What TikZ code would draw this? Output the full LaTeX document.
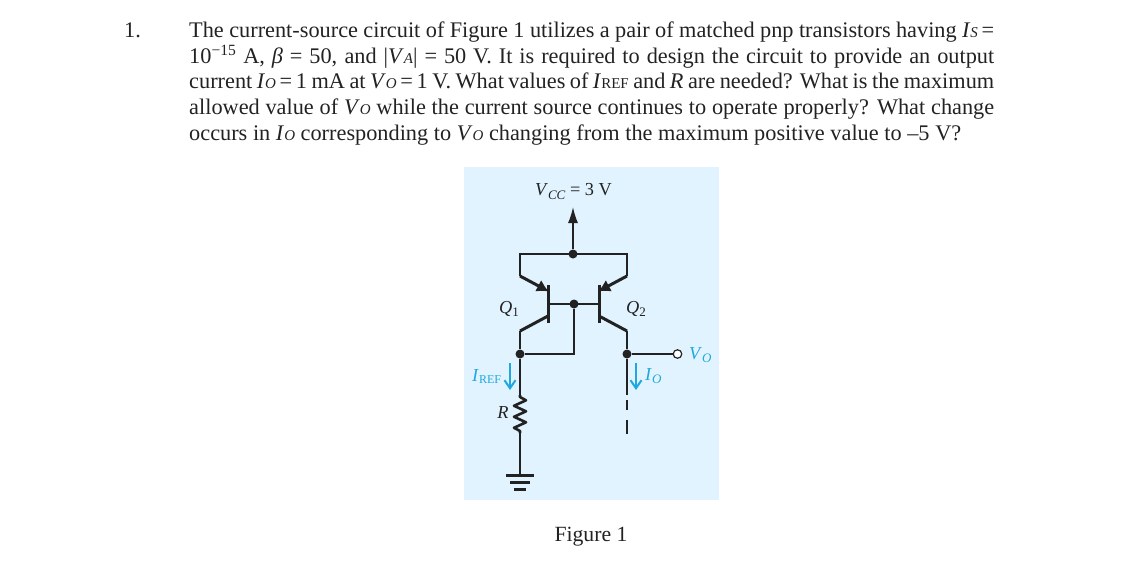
\documentclass[tikz,border=0pt]{standalone}
\usepackage{fontspec}
\setmainfont{Liberation Serif}
\usetikzlibrary{arrows.meta,calc}
\definecolor{panelblue}{HTML}{E0F3FE}
\definecolor{labelblue}{HTML}{1FA8E0}
\definecolor{inkgray}{HTML}{222222}
\newcommand{\prosesize}{\fontsize{22.3}{25.7}\selectfont}
\newcommand{\figsize}{\fontsize{18.3}{20}\selectfont}
\newcommand{\prosevar}[2]{\textit{#1}{\fontsize{15}{15}\selectfont\textit{#2}}}
\newcommand{\figvar}[2]{\textit{#1}\raisebox{-3.5pt}{\fontsize{13}{13}\selectfont\textit{#2}}}
\newcommand{\proseline}[1]{\makebox[805pt][s]{#1}\\}
\tikzset{
	wire/.style={inkgray,line width=1.5pt},
	heavy/.style={inkgray,line width=3pt},
	dot/.style={circle,fill=inkgray,inner sep=0pt,minimum size=9pt},
	terminal/.style={circle,draw=inkgray,fill=white,line width=1.2pt,inner sep=0pt,minimum size=8.5pt},
	currentarrow/.style={labelblue,line width=2pt,-{Straight Barb[length=8pt,width=11pt,line width=2pt]}},
	circuitlabel/.style={inkgray,font=\figsize,inner sep=0pt},
	bluelabel/.style={labelblue,font=\figsize,inner sep=0pt}
}
\begin{document}
\begin{tikzpicture}[x=1pt,y=-1pt]
	\useasboundingbox (0,0) rectangle (1127,560);
	%TEXT
	\node[anchor=base west,inner sep=0pt,inkgray,font=\prosesize] (number) at (124,37) {1.};
	\node[anchor=north west,inner sep=0pt,inkgray,font=\prosesize,align=left] (problem) at (189,21.5) {%
		\proseline{The current-source circuit of Figure 1 utilizes a pair of matched pnp transistors having \prosevar{I}{S}\,=}
		\proseline{10\textsuperscript{−15} A, \textit{β} = 50, and |\prosevar{V}{A}| = 50 V. It is required to design the circuit to provide an output}
		\proseline{current \prosevar{I}{O}\,=\,1 mA at \prosevar{V}{O}\,=\,1 V. What values of \prosevar{I}{}{\fontsize{15}{15}\selectfont REF} and \textit{R} are needed? What is the maximum}
		\proseline{allowed value of \prosevar{V}{O} while the current source continues to operate properly? What change}
		\makebox[772pt][s]{occurs in \prosevar{I}{O} corresponding to \prosevar{V}{O} changing from the maximum positive value to –5 V?}};
	\node[inkgray,font=\fontsize{21.7}{24}\selectfont,inner sep=0pt] (caption) at (591,537) {Figure 1};
	%PANEL
	\fill[panelblue] (464,167) rectangle (719,500);
	%POINTS
	\coordinate (supply) at (573,207);
	\node[dot] (top) at (573,254) {};
	\coordinate (railL) at (520,254);
	\coordinate (railR) at (627,254);
	\coordinate (kneeE1) at (520,276);
	\coordinate (kneeE2) at (627,276);
	\coordinate (emit1) at (548,291);
	\coordinate (emit2) at (599,291);
	\coordinate (bar1t) at (548,285);
	\coordinate (bar1b) at (548,323);
	\coordinate (bar2t) at (599,285);
	\coordinate (bar2b) at (599,323);
	\node[dot] (base) at (574,304) {};
	\coordinate (coll1) at (548,316);
	\coordinate (coll2) at (599,316);
	\coordinate (kneeC1) at (520,331);
	\coordinate (kneeC2) at (627,331);
	\node[dot] (out1) at (520,354) {};
	\node[dot] (out2) at (627,354) {};
	\coordinate (feed) at (574,354);
	\node[terminal] (vo) at (677.5,354) {};
	\coordinate (resT) at (520,395);
	\coordinate (resB) at (520,433);
	\coordinate (gnd) at (520,475);
	%WIRES
	\draw[wire,-{Latex[length=16pt,width=10pt]}] (top) -- (supply);
	\draw[wire] (kneeE1) -- (railL) -- (railR) -- (kneeE2);
	\draw[wire] (bar1t |- base) -- (bar2t |- base);
	\draw[wire] (base) -- (feed) -- (out1);
	\draw[wire] (kneeC1) -- (out1);
	\draw[wire] (kneeC2) -- (out2);
	\draw[wire] (out2) -- (vo);
	\draw[wire] (out1) -- (resT);
	\draw[wire] (resB) -- (gnd);
	%Q_1 et Q_2
	\draw[heavy] (bar1t) -- (bar1b);
	\draw[heavy] (bar2t) -- (bar2b);
	\draw[heavy] (coll1) -- (kneeC1);
	\draw[heavy] (coll2) -- (kneeC2);
	\draw[heavy,-{Latex[length=12pt,width=13pt]},shorten >=-1pt] (kneeE1) -- (emit1);
	\draw[heavy,-{Latex[length=12pt,width=13pt]},shorten >=-1pt] (kneeE2) -- (emit2);
	%R
	\draw[heavy,line width=2.6pt,line join=round] (resT) -- ++(0,2) -- ++(6,3.3) -- ++(-12,5.5) -- ++(12,5.5) -- ++(-12,5.5) -- ++(12,5.5) -- ++(-12,5.5) -- ++(6,3.2) -- (resB);
	%GROUND
	\draw[heavy] ($(gnd)+(-14,0)$) -- ($(gnd)+(14,0)$);
	\draw[heavy] ($(gnd)+(-10,7)$) -- ($(gnd)+(10,7)$);
	\draw[heavy] ($(gnd)+(-6,14)$) -- ($(gnd)+(6,14)$);
	%OUTPUT
	\draw[wire] (out2) -- (627,395);
	\draw[wire] (627,400) -- (627,410);
	\draw[wire] (627,420) -- (627,434);
	%CURRENTS
	\draw[currentarrow] (510,363) -- (510,390);
	\draw[currentarrow] (636,363) -- (636,390);
	%LABELS
	\node[circuitlabel] (vcc) at (573.5,191.5) {\figvar{V}{CC} = 3 V};
	\node[circuitlabel] (q1) at (509,309) {\figvar{Q}{\upshape 1}};
	\node[circuitlabel] (q2) at (636,309) {\figvar{Q}{\upshape 2}};
	\node[circuitlabel] (r) at (503,413) {\textit{R}};
	\node[bluelabel,anchor=west] (iref) at (472,377) {\textit{I}\raisebox{-2pt}{\fontsize{12}{12}\selectfont REF}};
	\node[bluelabel,anchor=west] (io) at (645,376) {\figvar{I}{O}};
	\node[bluelabel,anchor=west] (vout) at (689,355) {\figvar{V}{O}};
\end{tikzpicture}
\end{document}
